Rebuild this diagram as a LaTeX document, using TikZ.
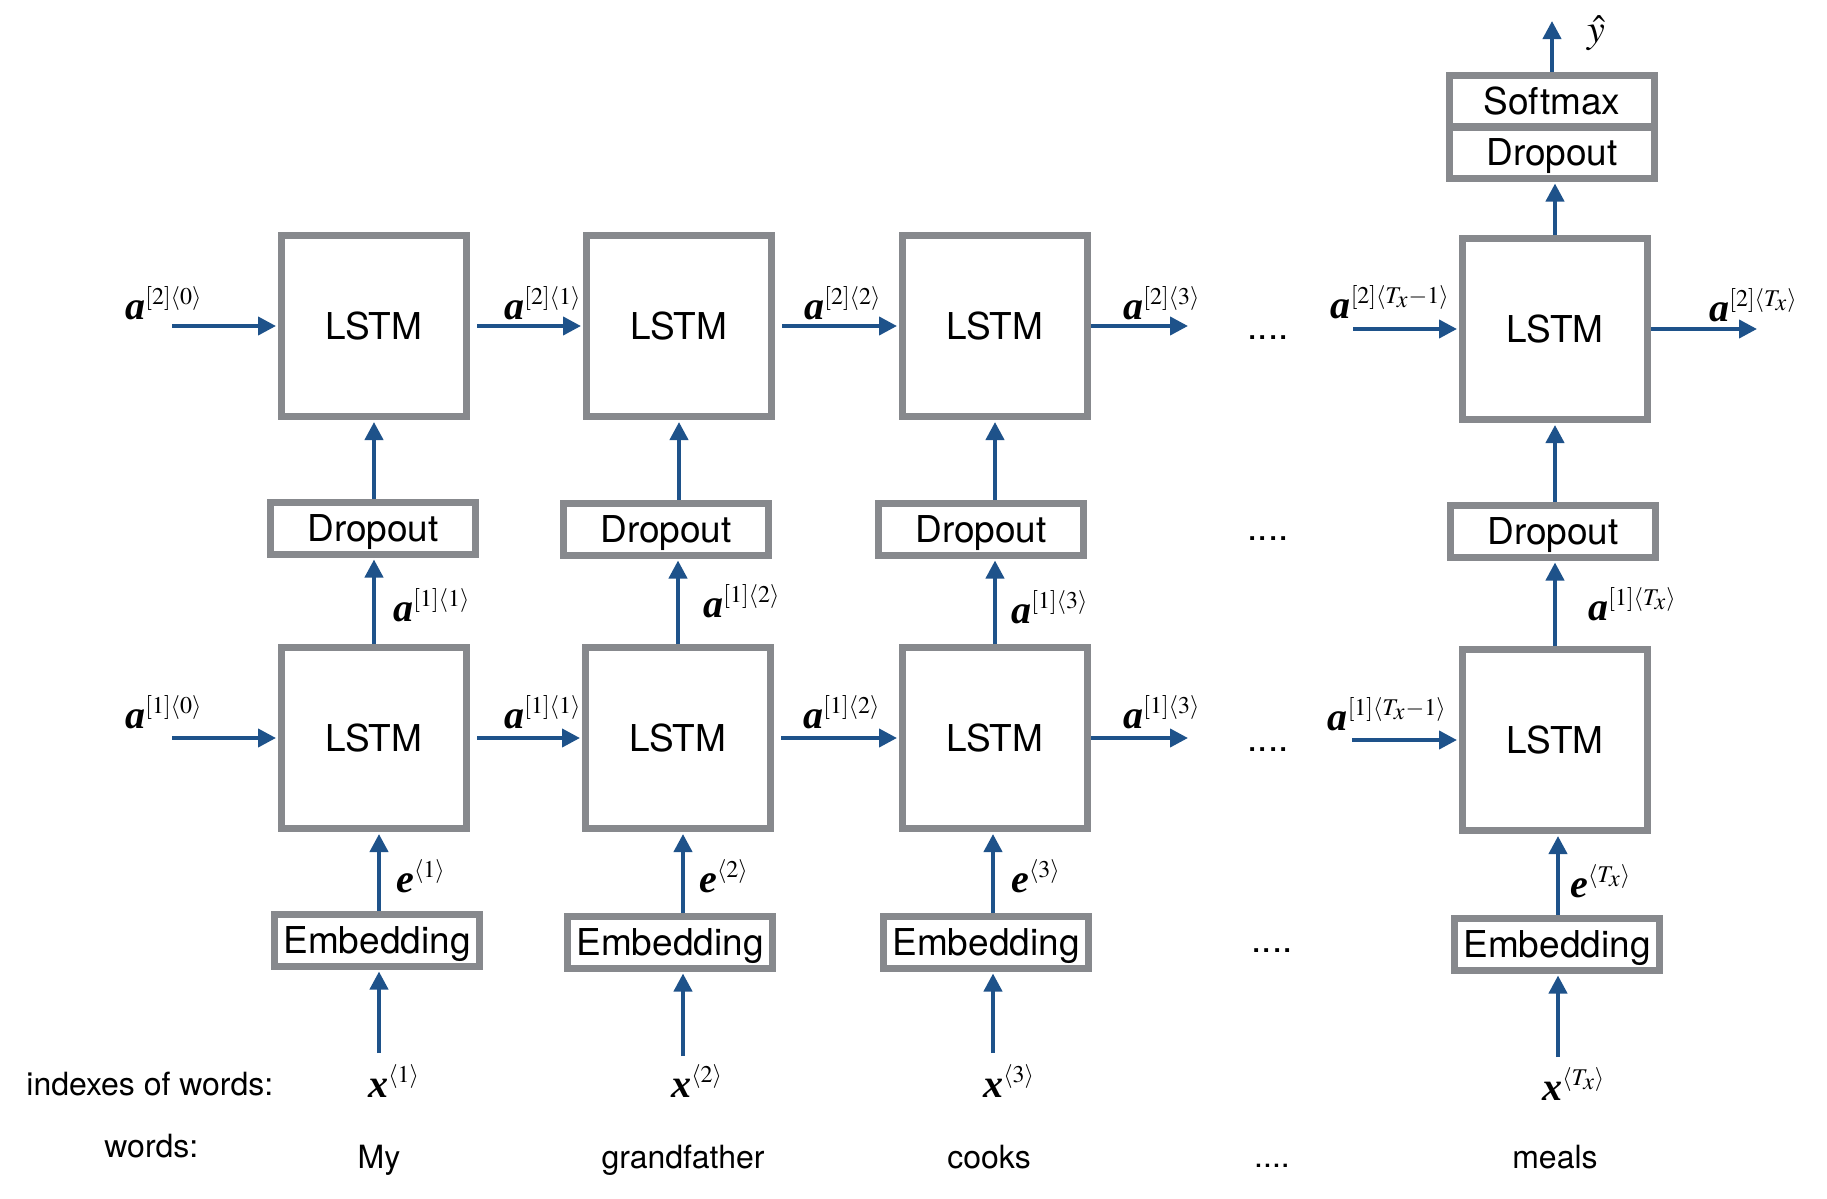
\documentclass[tikz,border=0pt]{standalone}
\usepackage{mathptmx}
\usepackage[no-math]{fontspec}
\newfontfamily\heros{TeX Gyre Heros}
\newfontfamily\lserif{Liberation Serif}
\usetikzlibrary{arrows.meta}
\definecolor{boxgray}{RGB}{135,137,141}
\definecolor{arrowblue}{RGB}{30,82,138}
\newcommand{\lbl}[2]{{\lserif\bfseries\itshape #1}$^{\scriptscriptstyle #2}$}

\tikzset{
  lstm/.style={draw=boxgray, line width=3.5pt, inner sep=0pt,
    minimum width=92.5pt, minimum height=90.5pt,
    font=\heros\fontsize{18.5}{20}\selectfont, text height=13.3pt, text depth=0pt},
  layer/.style={lstm, minimum width=102.5pt, minimum height=26pt},
  arr/.style={draw=arrowblue, line width=2pt, -{Triangle[length=9pt,width=9pt]}, shorten >=1pt},
  lab/.style={inner sep=0pt, font=\fontsize{20}{24}\selectfont},
  txt/.style={inner sep=0pt, font=\heros\fontsize{16}{18}\selectfont},
  dots/.style={inner sep=0pt, font=\heros\fontsize{18.5}{20}\selectfont}
}

\begin{document}
\begin{tikzpicture}[x=0.5pt, y=-0.5pt]
\useasboundingbox (0,0) rectangle (1827,1199);
% second LSTM layer
\node[lstm] (l21) at (374,326) {LSTM};
\node[lstm] (l22) at (679,326) {LSTM};
\node[lstm] (l23) at (995,326) {LSTM};
\node[lstm] (l2T) at (1555,329) {LSTM};
% first LSTM layer
\node[lstm] (l11) at (374,738) {LSTM};
\node[lstm] (l12) at (678,738) {LSTM};
\node[lstm] (l13) at (995,738) {LSTM};
\node[lstm] (l1T) at (1555,740) {LSTM};
% dropout between the layers
\node[layer] (d1) at (373,528) {Dropout};
\node[layer] (d2) at (666,529) {Dropout};
\node[layer] (d3) at (981,529) {Dropout};
\node[layer] (dT) at (1553,531) {Dropout};
% embeddings
\node[layer] (e1) at (377,940) {Embedding};
\node[layer] (e2) at (670,942) {Embedding};
\node[layer] (e3) at (986,942) {Embedding};
\node[layer] (eT) at (1557,944) {Embedding};
% output head
\node[layer] (drT) at (1552,152) {Dropout};
\node[layer] (smT) at (1552,101) {Softmax};

% free ends
\coordinate (i20) at (172,326);
\coordinate (o23) at (1190,326);
\coordinate (i2T) at (1353,329);
\coordinate (o2T) at (1759,329);
\coordinate (i10) at (172,738);
\coordinate (o13) at (1190,738);
\coordinate (i1T) at (1352,740);
\coordinate (yout) at (1552,19);
\coordinate (xin1) at (379,1053);
\coordinate (xin2) at (683,1056);
\coordinate (xin3) at (993,1053);
\coordinate (xinT) at (1558,1057);

% time steps
\draw[arr] (i20) -- (l21);
\draw[arr, shorten <=3.5pt] (l21) -- (l22);
\draw[arr, shorten <=3.5pt] (l22) -- (l23);
\draw[arr] (l23) -- (o23);
\draw[arr] (i2T) -- (l2T);
\draw[arr] (l2T) -- (o2T);
\draw[arr] (i10) -- (l11);
\draw[arr, shorten <=3.5pt] (l11) -- (l12);
\draw[arr, shorten <=3.5pt] (l12) -- (l13);
\draw[arr] (l13) -- (o13);
\draw[arr] (i1T) -- (l1T);

% upwards
\draw[arr] (l11.north) -- (l11.north |- d1.south);
\draw[arr] (d1.north -| l21.south) -- (l21.south);
\draw[arr] (l12.north) -- (l12.north |- d2.south);
\draw[arr] (d2.north -| l22.south) -- (l22.south);
\draw[arr] (l13.north) -- (l13.north |- d3.south);
\draw[arr] (d3.north -| l23.south) -- (l23.south);
\draw[arr] (l1T.north) -- (l1T.north |- dT.south);
\draw[arr] (dT.north -| l2T.south) -- (l2T.south);
\draw[arr] (e1.north -| xin1) -- (xin1 |- l11.south);
\draw[arr] (e2.north -| xin2) -- (xin2 |- l12.south);
\draw[arr] (e3.north -| xin3) -- (xin3 |- l13.south);
\draw[arr] (eT.north -| xinT) -- (xinT |- l1T.south);
\draw[arr] (xin1) -- (xin1 |- e1.south);
\draw[arr] (xin2) -- (xin2 |- e2.south);
\draw[arr] (xin3) -- (xin3 |- e3.south);
\draw[arr] (xinT) -- (xinT |- eT.south);
\draw[arr] (l2T.north) -- (l2T.north |- drT.south);
\draw[arr] (smT.north) -- (yout);

% activations
\node[lab, anchor=base west] (t20) at (125,319) {\lbl{a}{[2]\langle 0\rangle}};
\node[lab, anchor=base west] (t21) at (504,319) {\lbl{a}{[2]\langle 1\rangle}};
\node[lab, anchor=base west] (t22) at (804,319) {\lbl{a}{[2]\langle 2\rangle}};
\node[lab, anchor=base west] (t23) at (1123,319) {\lbl{a}{[2]\langle 3\rangle}};
\node[lab, anchor=base east] (t2Tm) at (1450,318) {\lbl{a}{[2]\langle T_x-1\rangle}};
\node[lab, anchor=base west] (t2T) at (1709,321) {\lbl{a}{[2]\langle T_x\rangle}};
\node[lab, anchor=base west] (t10) at (125,728) {\lbl{a}{[1]\langle 0\rangle}};
\node[lab, anchor=base west] (t11) at (504,728) {\lbl{a}{[1]\langle 1\rangle}};
\node[lab, anchor=base west] (t12) at (803,728) {\lbl{a}{[1]\langle 2\rangle}};
\node[lab, anchor=base west] (t13) at (1123,728) {\lbl{a}{[1]\langle 3\rangle}};
\node[lab, anchor=base east] (t1Tm) at (1447,730) {\lbl{a}{[1]\langle T_x-1\rangle}};
\node[lab, anchor=base west] (v1) at (393,621) {\lbl{a}{[1]\langle 1\rangle}};
\node[lab, anchor=base west] (v2) at (703,617) {\lbl{a}{[1]\langle 2\rangle}};
\node[lab, anchor=base west] (v3) at (1011,623) {\lbl{a}{[1]\langle 3\rangle}};
\node[lab, anchor=base west] (vT) at (1588,620) {\lbl{a}{[1]\langle T_x\rangle}};
\node[lab, anchor=base west] (el1) at (396,892) {\lbl{e}{\langle 1\rangle}};
\node[lab, anchor=base west] (el2) at (699,892) {\lbl{e}{\langle 2\rangle}};
\node[lab, anchor=base west] (el3) at (1011,892) {\lbl{e}{\langle 3\rangle}};
\node[lab, anchor=base west] (elT) at (1570,897) {\lbl{e}{\langle T_x\rangle}};
\node[lab, anchor=base west] (xl1) at (368,1097) {\lbl{x}{\langle 1\rangle}};
\node[lab, anchor=base west] (xl2) at (671,1097) {\lbl{x}{\langle 2\rangle}};
\node[lab, anchor=base west] (xl3) at (983,1097) {\lbl{x}{\langle 3\rangle}};
\node[lab, anchor=base west] (xlT) at (1542,1100) {\lbl{x}{\langle T_x\rangle}};
\node[lab] (yhat) at (1596,33) {$\hat{y}$};

% gaps
\node[dots, anchor=base] (dot2) at (1268,339) {....};
\node[dots, anchor=base] (dotd) at (1268,540) {....};
\node[dots, anchor=base] (dot1) at (1268,751) {....};
\node[dots, anchor=base] (dote) at (1272,952) {....};
\node[txt, anchor=base] (dotw) at (1272,1167) {....};

% words
\node[txt, anchor=base west] (idx) at (26,1095) {indexes of words:};
\node[txt, anchor=base west] (wrd) at (104,1157) {words:};
\node[txt, anchor=base] (w1) at (379,1168) {My};
\node[txt, anchor=base] (w2) at (683,1168) {grandfather};
\node[txt, anchor=base] (w3) at (989,1168) {cooks};
\node[txt, anchor=base] (wT) at (1555,1168) {meals};
\end{tikzpicture}
\end{document}
